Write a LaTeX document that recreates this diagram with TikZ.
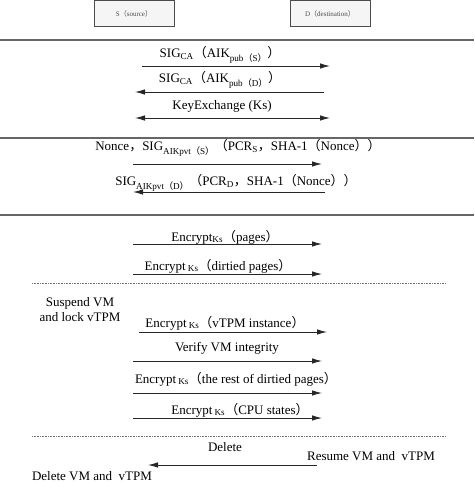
\documentclass[tikz,border=0pt]{standalone}
\usepackage{fontspec}
\setmainfont{Liberation Serif}
\newfontfamily\cjk{Noto Sans CJK SC}
\usetikzlibrary{arrows.meta}
\newcommand\zlp{{\cjk （}}
\newcommand\zrp{{\cjk ）}}
\newcommand\zcm{{\cjk ，}}
\tikzset{
  msg/.style={inner sep=0pt, font=\fontsize{13}{15}\selectfont, text=black},
  arr/.style={draw=black!85, line width=0.9pt, -{Latex[length=10pt,width=5.5pt]}},
  darr/.style={draw=black!85, line width=0.9pt, {Latex[length=10pt,width=5.5pt]}-{Latex[length=10pt,width=5.5pt]}},
  sepline/.style={draw=black!60, line width=1.3pt},
  dotline/.style={draw=black!55, line width=0.8pt, dash pattern=on 0.8pt off 0.8pt},
  actor/.style={draw=black!70, fill=blue!6!black!4, line width=0.9pt, minimum width=80pt, minimum height=25.5pt, inner sep=0pt, font=\fontsize{7}{8}\selectfont, text=black!70},
}
\begin{document}
\begin{tikzpicture}[x=1pt,y=-1pt]
\useasboundingbox (0,0) rectangle (474,503);
% actors
\node[actor] (S) at (134,13.5) {S\zlp source\zrp};
\node[actor] (D) at (330,13.5) {D\zlp destination\zrp};
% separators
\coordinate (s1a) at (0,40);  \coordinate (s1b) at (474,40);
\coordinate (s2a) at (0,138); \coordinate (s2b) at (474,138);
\coordinate (s3a) at (0,215); \coordinate (s3b) at (474,215);
\coordinate (d1a) at (32,283); \coordinate (d1b) at (445,283);
\coordinate (d2a) at (32,436); \coordinate (d2b) at (445,436);
\draw[sepline] (s1a) -- (s1b);
\draw[sepline] (s2a) -- (s2b);
\draw[sepline] (s3a) -- (s3b);
\draw[dotline] (d1a) -- (d1b);
\draw[dotline] (d2a) -- (d2b);
% labels
\node[msg] (l1) at (220,55) {SIG\textsubscript{CA}\zlp AIK\textsubscript{pub\zlp S\zrp}\zrp};
\node[msg] (l2) at (220,80) {SIG\textsubscript{CA}\zlp AIK\textsubscript{pub\zlp D\zrp}\zrp};
\node[msg] (l3) at (222,106) {KeyExchange (Ks)};
\node[msg] (l4) at (238,148) {Nonce\zcm SIG\textsubscript{AIKpvt\zlp S\zrp}\zlp PCR\textsubscript{S}\zcm SHA-1\zlp Nonce\zrp\zrp};
\node[msg] (l5) at (236,183) {SIG\textsubscript{AIKpvt\zlp D\zrp}\zlp PCR\textsubscript{D}\zcm SHA-1\zlp Nonce\zrp\zrp};
\node[msg] (l6) at (225,237) {Encrypt\textsubscript{Ks}\zlp pages\zrp};
\node[msg] (l7) at (218,266) {Encrypt\,\textsubscript{Ks}\zlp dirtied pages\zrp};
\node[msg, align=center] (sus) at (80,310) {Suspend VM\\and lock vTPM};
\node[msg] (l8) at (225,323) {Encrypt\,\textsubscript{Ks}\zlp vTPM instance\zrp};
\node[msg] (l9) at (227,348) {Verify VM integrity};
\node[msg] (l10) at (236,379) {Encrypt\,\textsubscript{Ks}\zlp the rest of dirtied pages\zrp};
\node[msg] (l11) at (240,410) {Encrypt\,\textsubscript{Ks}\zlp CPU states\zrp};
\node[msg] (l12) at (225,447) {Delete};
\node[msg] (res) at (371,456) {Resume VM and\ \ vTPM};
\node[msg] (del) at (92,476) {Delete VM and\ \ vTPM};
% arrow end points
\coordinate (a1s) at (142,66);  \coordinate (a1e) at (330,66);
\coordinate (a2s) at (324,92);  \coordinate (a2e) at (135,92);
\coordinate (a3s) at (135,118); \coordinate (a3e) at (330,118);
\coordinate (a4s) at (133,164); \coordinate (a4e) at (322,164);
\coordinate (a5s) at (325,192); \coordinate (a5e) at (133,192);
\coordinate (a6s) at (133,244); \coordinate (a6e) at (322,244);
\coordinate (a7s) at (133,274); \coordinate (a7e) at (322,274);
\coordinate (a8s) at (139,332); \coordinate (a8e) at (327,332);
\coordinate (a9s) at (133,361); \coordinate (a9e) at (322,361);
\coordinate (a10s) at (133,393); \coordinate (a10e) at (322,393);
\coordinate (a11s) at (133,418); \coordinate (a11e) at (322,418);
\coordinate (a12s) at (317,465); \coordinate (a12e) at (148,465);
\draw[arr] (a1s) -- (a1e);
\draw[arr] (a2s) -- (a2e);
\draw[darr] (a3s) -- (a3e);
\draw[arr] (a4s) -- (a4e);
\draw[arr] (a5s) -- (a5e);
\draw[arr] (a6s) -- (a6e);
\draw[arr] (a7s) -- (a7e);
\draw[arr] (a8s) -- (a8e);
\draw[arr] (a9s) -- (a9e);
\draw[arr] (a10s) -- (a10e);
\draw[arr] (a11s) -- (a11e);
\draw[arr] (a12s) -- (a12e);
\end{tikzpicture}
\end{document}
